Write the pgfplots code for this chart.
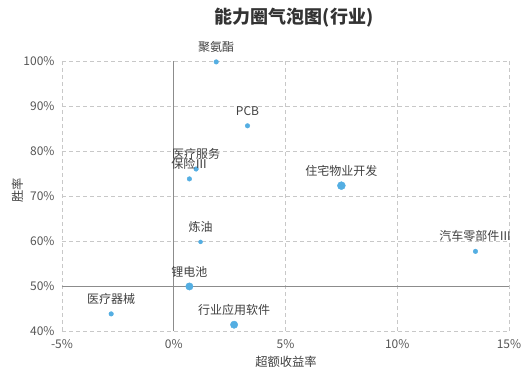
\documentclass[border=0pt]{standalone}
\usepackage{fontspec}
\setmainfont{Noto Sans CJK SC}
\usepackage{pgfplots}
\usepackage{pgfplotstable}
\pgfplotsset{compat=1.18}
\definecolor{bub}{RGB}{84,174,226}
\definecolor{txt}{RGB}{64,64,64}
\definecolor{ttl}{RGB}{51,51,51}
\definecolor{tck}{RGB}{85,85,85}
\definecolor{grd}{RGB}{200,200,200}
\definecolor{zln}{RGB}{140,140,140}
\pgfplotstableread{
x y label
1.9 99.8 聚氨酯
3.3 85.6 PCB
1.0 76.0 医疗服务
0.7 73.8 保险Ⅲ
13.5 57.7 汽车零部件Ⅲ
-2.8 43.8 医疗器械
}\datasmall
\pgfplotstableread{
x y label
1.2 59.8 炼油
}\datatiny
\pgfplotstableread{
x y label
0.7 49.9 锂电池
2.7 41.4 行业应用软件
}\datamid
\pgfplotstableread{
x y label
7.5 72.3 住宅物业开发
}\databig
\begin{document}
\begin{tikzpicture}[x=1pt,y=1pt]
\useasboundingbox (0,0) rectangle (532,381);
\begin{axis}[
  at={(62pt,50pt)}, anchor=south west,
  scale only axis, width=447pt, height=270pt,
  xmin=-5, xmax=15, ymin=40, ymax=100,
  xtick={-5,0,5,10,15}, ytick={40,50,60,70,80,90,100},
  xticklabels={-5\%,0\%,5\%,10\%,15\%},
  yticklabels={40\%,50\%,60\%,70\%,80\%,90\%,100\%},
  axis line style={draw=none},
  major tick length=0pt,
  grid=major,
  major grid style={grd, dash pattern=on 4pt off 3pt, line width=0.6pt},
  ticklabel style={font=\fontsize{12}{14}\selectfont, text=tck},
  xticklabel style={yshift=-5pt},
  yticklabel style={xshift=-4pt},
  clip=false,
  point meta=explicit symbolic,
  nodes near coords,
  every node near coord/.append style={anchor=center, yshift=15pt, font=\fontsize{12}{14}\selectfont, text=txt, inner sep=0pt},
]
\draw[zln, line width=0.7pt] (axis cs:0,40) -- (axis cs:0,100);
\draw[zln, line width=0.7pt] (axis cs:-5,50) -- (axis cs:15,50);
\addplot[only marks, mark=*, mark size=2.3pt, color=bub] table[x=x,y=y,meta=label] {\datasmall};
\addplot[only marks, mark=*, mark size=2pt, color=bub] table[x=x,y=y,meta=label] {\datatiny};
\addplot[only marks, mark=*, mark size=3.7pt, color=bub] table[x=x,y=y,meta=label] {\datamid};
\addplot[only marks, mark=*, mark size=4pt, color=bub] table[x=x,y=y,meta=label] {\databig};
\end{axis}
\node[font=\fontsize{18}{21}\selectfont\bfseries, text=ttl] at (294,363) {能力圈气泡图(行业)};
\node[font=\fontsize{12.3}{14}\selectfont, text=txt, rotate=90] at (18,191) {胜率};
\node[font=\fontsize{12.3}{14}\selectfont, text=txt] at (286,19) {超额收益率};
\end{tikzpicture}
\end{document}
